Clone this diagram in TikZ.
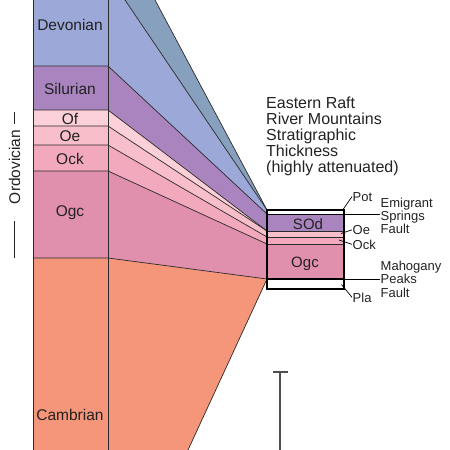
\documentclass[tikz,border=0pt]{standalone}
\usepackage{fontspec}
\setmainfont{Liberation Sans}
\usepackage{xcolor}
\usepackage{tikz}
\usetikzlibrary{positioning}

\definecolor{devon}{HTML}{9CA8D8}
\definecolor{slate}{HTML}{87A0BE}
\definecolor{silur}{HTML}{A984BF}
\definecolor{ofc}{HTML}{FBD0D8}
\definecolor{oec}{HTML}{F8BECA}
\definecolor{ockc}{HTML}{F3A9BD}
\definecolor{ogcc}{HTML}{E08FAD}
\definecolor{camb}{HTML}{F5967A}
\definecolor{ink}{HTML}{222222}
\definecolor{edge}{HTML}{2A2A2A}

\begin{document}
\begin{tikzpicture}[x=1pt, y=-1pt,
    bed/.style={draw=edge, line width=0.7pt},
    unit/.style={font=\fontsize{15.5}{16}\selectfont, text=ink, inner sep=0pt, anchor=base},
    tag/.style={font=\fontsize{13}{13.3}\selectfont, text=ink, inner sep=0.5pt, anchor=base west},
    lead/.style={draw=black, line width=0.7pt},
]
\useasboundingbox (0,0) rectangle (450,450);

% Left column (full thickness)
\fill[devon] (33,0) rectangle (108,66);
\fill[silur] (33,66) rectangle (108,110);
\fill[ofc] (33,110) rectangle (108,126);
\fill[oec] (33,126) rectangle (108,145);
\fill[ockc] (33,145) rectangle (108,171);
\fill[ogcc] (33,171) rectangle (108,258);
\fill[camb] (33,258) rectangle (108,450);

% Thinning wedge towards the raft
\fill[slate] (125,0) -- (155,0) -- (267,210) -- cycle;
\fill[devon] (108,0) -- (125,0) -- (267,210) -- (267,214) -- (108,66) -- cycle;
\fill[silur] (108,66) -- (267,214) -- (267,231) -- (108,110) -- cycle;
\fill[ofc] (108,110) -- (267,231) -- (108,126) -- cycle;
\fill[oec] (108,126) -- (267,231) -- (267,237) -- (108,145) -- cycle;
\fill[ockc] (108,145) -- (267,237) -- (267,244) -- (108,171) -- cycle;
\fill[ogcc] (108,171) -- (267,244) -- (267,279) -- (108,258) -- cycle;
\fill[camb] (108,258) -- (267,279) -- (188,450) -- (108,450) -- cycle;

\draw[bed] (33,0) -- (33,450);
\draw[bed] (108,0) -- (108,450);
\draw[bed] (33,66) -- (108,66) -- (267,214);
\draw[bed] (33,110) -- (108,110) -- (267,231);
\draw[bed] (33,126) -- (108,126) -- (267,231);
\draw[bed] (33,145) -- (108,145) -- (267,237);
\draw[bed] (33,171) -- (108,171) -- (267,244);
\draw[bed] (33,258) -- (108,258) -- (267,279);
\draw[bed] (125,0) -- (267,210);
\draw[bed] (155,0) -- (267,210);
\draw[bed] (267,279) -- (188,450);

% Raft column
\fill[silur] (267,214) rectangle (344,231);
\fill[oec] (267,231) rectangle (344,237);
\fill[ockc] (267,237) rectangle (344,244);
\fill[ogcc] (267,244) rectangle (344,279);
\draw[bed] (267,231) -- (344,231);
\draw[bed] (267,237) -- (344,237);
\draw[draw=edge, line width=1pt] (267,244) -- (344,244);
\draw[draw=black, line width=1.3pt] (267,279) -- (344,279);
\draw[lead] (267,214) -- (380,214);
\draw[lead] (344,279) -- (380,279);
\draw[draw=black, line width=1.2pt] (267,210) rectangle (344,289);

% Unit names
\node[unit] (devonian) at (70,30.7) {Devonian};
\node[unit] (silurian) at (70,94) {Silurian};
\node[unit] (of) at (70,124) {Of};
\node[unit] (oe) at (70,141.7) {Oe};
\node[unit] (ock) at (70,164) {Ock};
\node[unit] (ogc) at (70,216) {Ogc};
\node[unit] (cambrian) at (70,420) {Cambrian};
\node[unit, font=\fontsize{15}{16}\selectfont] (sod) at (308,229) {SOd};
\node[unit, font=\fontsize{15}{16}\selectfont] (ogcraft) at (305,267.3) {Ogc};

\node[unit, rotate=90, anchor=center] (ordo) at (14.5,167) {Ordovician};
\draw[draw=ink, line width=0.8pt] (14.5,112) -- (14.5,124);
\draw[draw=ink, line width=0.8pt] (14.5,221) -- (14.5,258);

\node[font=\fontsize{16}{16}\selectfont, text=ink, align=left, anchor=north west, inner sep=0pt]
    (title) at (266,97) {Eastern Raft\\River Mountains\\Stratigraphic\\Thickness\\(highly attenuated)};

% Labels at the raft
\node[tag] (potlbl) at (352,201) {Pot};
\node[tag] (oelbl) at (352,234.3) {Oe};
\node[tag] (ocklbl) at (352,249) {Ock};
\node[tag] (plalbl) at (352,302) {Pla};
\node[tag, align=left, anchor=north west, inner sep=0pt] (emigrant) at (380.5,197.5) {Emigrant\\Springs\\Fault};
\node[tag, align=left, anchor=north west, inner sep=0pt] (mahogany) at (380.5,261) {Mahogany\\Peaks\\Fault};

\draw[lead] (342,211) -- (potlbl.west);
\draw[lead] (341,233.5) -- (oelbl.west);
\draw[lead] (339,240) -- (ocklbl.west);
\draw[lead] (341.5,284.5) -- (plalbl.west);

% Scale bar
\draw[draw=ink!80, line width=1.3pt] (280,372) -- (280,450);
\draw[draw=ink!80, line width=1.3pt] (273,372) -- (288,372);

\end{tikzpicture}
\end{document}
